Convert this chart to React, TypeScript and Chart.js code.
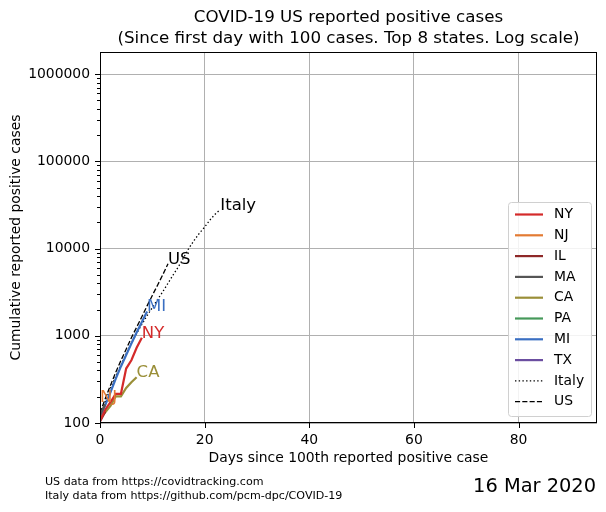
import { useEffect, useRef } from 'react';
import { Chart, registerables } from 'chart.js';

Chart.register(...registerables);

// ---- data (days since 100th case, index = day) ----
const NY = [106, 142, 173, 216, 216, 421, 524, 729, 950];
const NJ = [175];
const IL = [104, 135];
const MA = [123, 164];
const CA = [114, 133, 157, 202, 202, 252, 293, 335];
const PA = [112];
const MI = [115, 160, 225, 320, 445, 600, 815, 1090, 1440, 1900];
const TX = [106];
const ITALY = [120, 175, 250, 340, 460, 620, 820, 1060, 1350, 1700, 2100, 2600, 3200, 4000, 5000, 6200, 7900, 10100, 12400, 15000, 17600, 21200, 24700, 28000];
const US = [130, 190, 270, 380, 520, 700, 950, 1250, 1650, 2200, 2900, 3800, 5000, 6700];

const xTicks = [0, 20, 40, 60, 80];
const yMajorTicks = [100, 1000, 10000, 100000, 1000000];
const minorMultipliers = [2, 3, 4, 5, 6, 7, 8, 9];
const X_MAX = 95;
const Y_MIN = 100;
const Y_MAX = 1.79e6;

const TITLE_1 = 'COVID-19 US reported positive cases';
const TITLE_2 = '(Since first day with 100 cases. Top 8 states. Log scale)';
const X_TITLE = 'Days since 100th reported positive case';
const Y_TITLE = 'Cumulative reported positive cases';
const FOOT_1 = 'US data from https://covidtracking.com';
const FOOT_2 = 'Italy data from https://github.com/pcm-dpc/COVID-19';
const DATE_TEXT = '16 Mar 2020';

type Series = { name: string; data: number[]; color: string; dash: number[]; width: number; label: boolean };

const SERIES: Series[] = [
  { name: 'NY', data: NY, color: '#d42a2a', dash: [], width: 2.2, label: true },
  { name: 'NJ', data: NJ, color: '#e37b34', dash: [], width: 2.2, label: true },
  { name: 'IL', data: IL, color: '#8e2828', dash: [], width: 2.2, label: false },
  { name: 'MA', data: MA, color: '#555555', dash: [], width: 2.2, label: false },
  { name: 'CA', data: CA, color: '#9a8f38', dash: [], width: 2.2, label: true },
  { name: 'PA', data: PA, color: '#46995a', dash: [], width: 2.2, label: false },
  { name: 'MI', data: MI, color: '#3a6fc2', dash: [], width: 2.2, label: true },
  { name: 'TX', data: TX, color: '#6b4ea0', dash: [], width: 2.2, label: false },
  { name: 'Italy', data: ITALY, color: '#000000', dash: [1.4, 2.3], width: 1.3, label: true },
  { name: 'US', data: US, color: '#000000', dash: [5.1, 2.2], width: 1.3, label: true },
];

const FONT = '"DejaVu Sans", sans-serif';

const decor = {
  id: 'decor',
  afterDraw(chart: any) {
    const { ctx, chartArea: a, scales } = chart;
    const x = scales.x;
    const y = scales.y;
    ctx.save();

    // frame
    ctx.strokeStyle = '#000';
    ctx.lineWidth = 1;
    ctx.setLineDash([]);
    ctx.strokeRect(a.left + 0.5, a.top + 0.5, a.right - a.left - 1, a.bottom - a.top - 1);

    // tick marks
    ctx.beginPath();
    xTicks.forEach((v) => {
      const px = Math.round(x.getPixelForValue(v)) + 0.5;
      ctx.moveTo(px, a.bottom);
      ctx.lineTo(px, a.bottom + 5);
    });
    yMajorTicks.forEach((v) => {
      const py = Math.round(y.getPixelForValue(v)) + 0.5;
      ctx.moveTo(a.left, py);
      ctx.lineTo(a.left - 5, py);
    });
    yMajorTicks.forEach((v) => {
      minorMultipliers.forEach((m) => {
        const val = v * m;
        if (val > Y_MAX) return;
        const py = Math.round(y.getPixelForValue(val)) + 0.5;
        ctx.moveTo(a.left, py);
        ctx.lineTo(a.left - 3, py);
      });
    });
    ctx.stroke();

    // end-of-line labels
    ctx.font = `16.5px ${FONT}`;
    ctx.textAlign = 'left';
    ctx.textBaseline = 'alphabetic';
    SERIES.forEach((s) => {
      if (!s.label) return;
      const i = s.data.length - 1;
      ctx.fillStyle = s.color;
      ctx.fillText(s.name, x.getPixelForValue(i), y.getPixelForValue(s.data[i]));
    });

    // legend
    const lx = 508, ly = 202, lw = 83, lh = 214;
    ctx.beginPath();
    ctx.roundRect(lx + 0.5, ly + 0.5, lw, lh, 3);
    ctx.fillStyle = 'rgba(255,255,255,0.85)';
    ctx.fill();
    ctx.strokeStyle = '#d0d0d0';
    ctx.lineWidth = 1;
    ctx.stroke();
    ctx.font = `13.9px ${FONT}`;
    ctx.textBaseline = 'middle';
    SERIES.forEach((s, k) => {
      const ry = 214.5 + k * 20.8;
      ctx.beginPath();
      ctx.strokeStyle = s.color;
      ctx.lineWidth = s.width;
      ctx.setLineDash(s.dash);
      ctx.moveTo(515, ry);
      ctx.lineTo(543, ry);
      ctx.stroke();
      ctx.setLineDash([]);
      ctx.fillStyle = '#000';
      ctx.fillText(s.name, 554, ry);
    });

    // titles
    ctx.fillStyle = '#000';
    ctx.textAlign = 'center';
    ctx.textBaseline = 'middle';
    ctx.font = `16.7px ${FONT}`;
    const cx = (a.left + a.right) / 2;
    ctx.fillText(TITLE_1, cx, 18);
    ctx.fillText(TITLE_2, cx, 39);

    ctx.font = `13.9px ${FONT}`;
    ctx.fillText(X_TITLE, cx, 458);
    ctx.save();
    ctx.translate(16, (a.top + a.bottom) / 2);
    ctx.rotate(-Math.PI / 2);
    ctx.fillText(Y_TITLE, 0, 0);
    ctx.restore();

    ctx.textAlign = 'left';
    ctx.font = `11.1px ${FONT}`;
    ctx.fillText(FOOT_1, 45, 482);
    ctx.fillText(FOOT_2, 45, 496);

    ctx.textAlign = 'right';
    ctx.font = `19.4px ${FONT}`;
    ctx.fillText(DATE_TEXT, 596, 487);

    ctx.restore();
  },
};

export default function App() {
  const ref = useRef<HTMLCanvasElement | null>(null);

  useEffect(() => {
    if (!ref.current) return;
    const chart = new Chart(ref.current, {
      type: 'line',
      data: {
        datasets: SERIES.map((s) => ({
          label: s.name,
          data: s.data.map((v, i) => ({ x: i, y: v })),
          borderColor: s.color,
          backgroundColor: s.color,
          borderWidth: s.width,
          borderDash: s.dash,
          pointRadius: 0,
          pointHoverRadius: 0,
          tension: 0,
          fill: false,
        })),
      },
      options: {
        animation: false,
        responsive: false,
        maintainAspectRatio: false,
        events: [],
        layout: { padding: { left: 0, right: 9, top: 52, bottom: 0 } },
        plugins: {
          legend: { display: false },
          title: { display: false },
          tooltip: { enabled: false },
        },
        scales: {
          x: {
            type: 'linear',
            min: 0,
            max: X_MAX,
            afterBuildTicks: (s: any) => {
              s.ticks = xTicks.map((v) => ({ value: v }));
            },
            afterFit: (s: any) => {
              s.height = 89;
            },
            grid: { color: '#b0b0b0', lineWidth: 1, drawTicks: false },
            border: { display: false },
            ticks: {
              color: '#000',
              font: { family: FONT, size: 13.9 },
              padding: 9,
              maxRotation: 0,
              autoSkip: false,
            },
          },
          y: {
            type: 'logarithmic',
            min: Y_MIN,
            max: Y_MAX,
            afterBuildTicks: (s: any) => {
              s.ticks = yMajorTicks.map((v) => ({ value: v, major: true }));
            },
            afterFit: (s: any) => {
              s.width = 100;
            },
            grid: { color: '#b0b0b0', lineWidth: 1, drawTicks: false },
            border: { display: false },
            ticks: {
              color: '#000',
              font: { family: FONT, size: 13.9 },
              padding: 10,
              autoSkip: false,
              callback: (v: any) => String(v),
            },
          },
        },
      },
      plugins: [decor],
    });
    return () => chart.destroy();
  }, []);

  return (
    <div style={{ position: 'absolute', left: 0, top: 0, width: 606, height: 512, background: '#fff' }}>
      <canvas ref={ref} width={606} height={512} style={{ width: 606, height: 512, display: 'block' }} />
    </div>
  );
}
